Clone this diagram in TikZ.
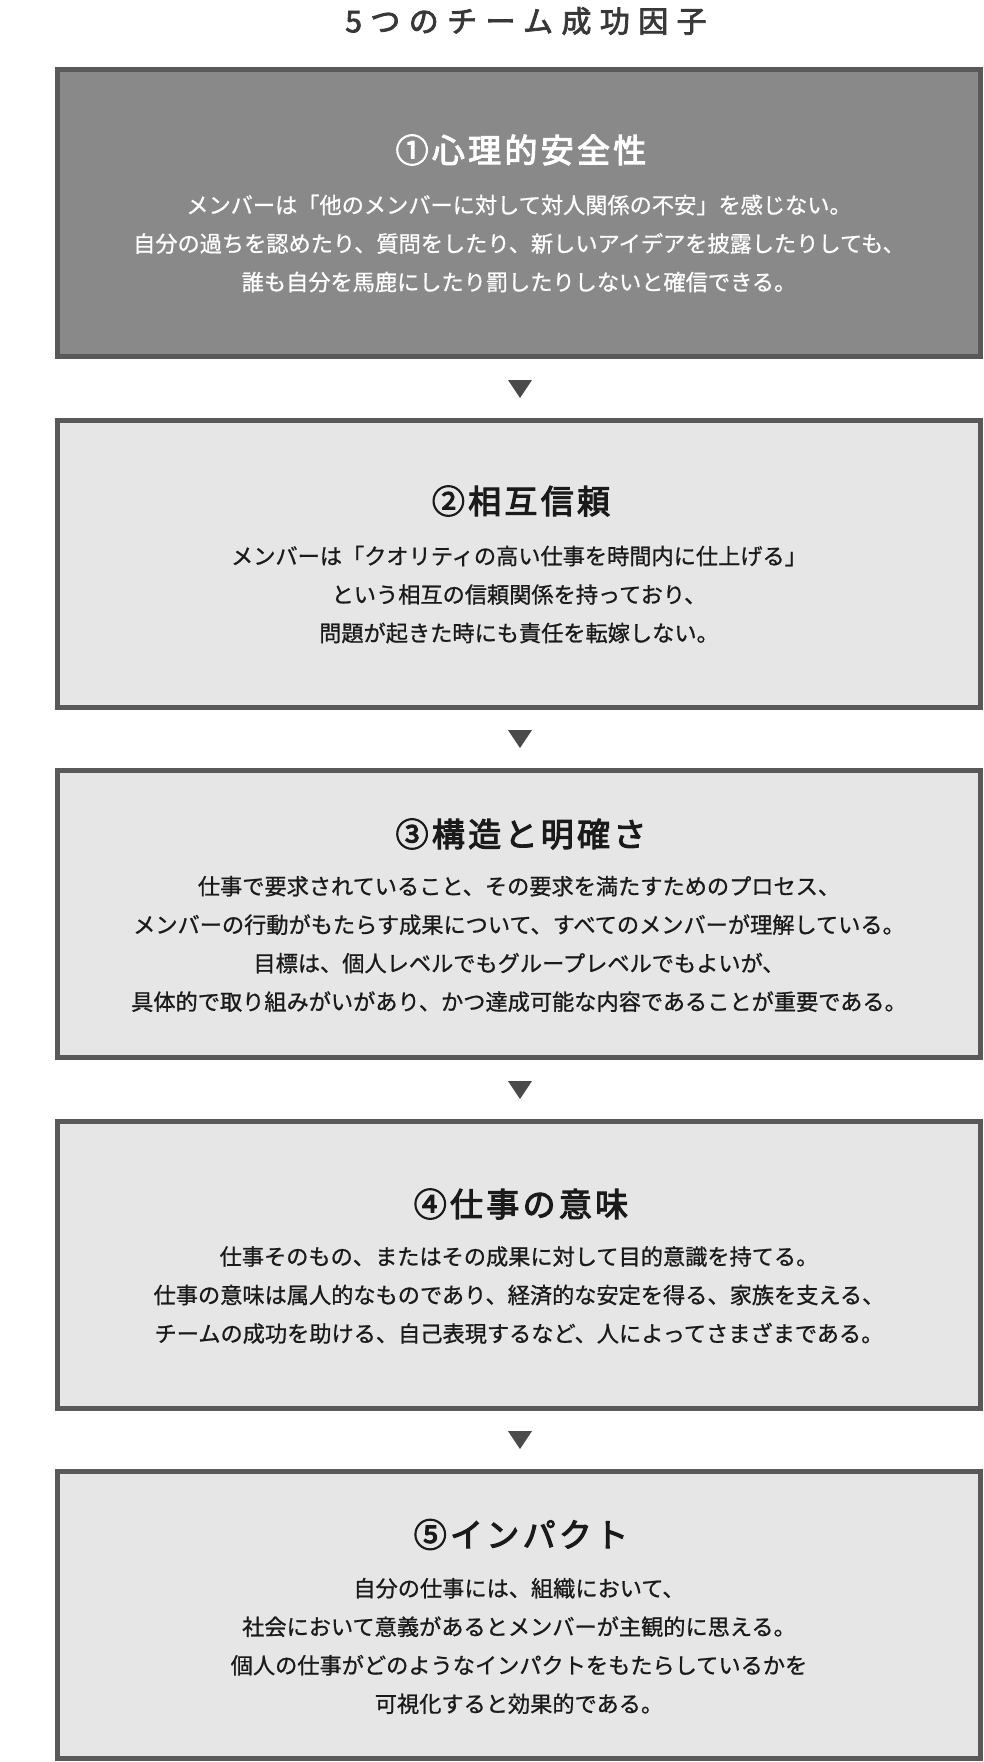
\documentclass[tikz,border=0pt]{standalone}
\usepackage{fontspec}
\setmainfont{Noto Sans CJK JP}
\newfontfamily\titlefont[LetterSpace=28,FakeBold=2.6]{Noto Sans CJK JP}
\newfontfamily\headfont[LetterSpace=10,FakeBold=3.2]{Noto Sans CJK JP}
\newfontfamily\bodyfont[FakeBold=0.9]{Noto Sans CJK JP}
\usetikzlibrary{calc}
\definecolor{edgegray}{HTML}{595959}
\definecolor{darkfill}{HTML}{898989}
\definecolor{lightfill}{HTML}{E6E6E6}
\definecolor{inkdark}{HTML}{1A1A1A}
\definecolor{titleink}{HTML}{383838}
\definecolor{trigray}{HTML}{4A4A4A}
\tikzset{
  factor/.style={rectangle, draw=edgegray, line width=5pt, minimum width=923pt, minimum height=287pt, inner sep=0pt},
  factordark/.style={factor, fill=darkfill},
  factorlight/.style={factor, fill=lightfill},
  headtext/.style={inner sep=0pt, font=\headfont\fontsize{33}{38}\selectfont},
  bodytext/.style={inner sep=0pt, align=center, font=\bodyfont\fontsize{22.2}{38.5}\selectfont},
  titletext/.style={inner sep=0pt, text=titleink, font=\titlefont\fontsize{30}{34}\selectfont},
  trifill/.style={fill=trigray}
}
\begin{document}
\begin{tikzpicture}[x=1pt, y=-1pt]
\useasboundingbox (0,0) rectangle (984,1762);
\fill[white] (0,0) rectangle (984,1762);

\node[titletext] (title) at (526,21) {5つのチーム成功因子};

% boxes
\node[factordark]  (b1) at (519,213) {};
\node[factorlight] (b2) at (519,563.5) {};
\node[factorlight] (b3) at (519,914) {};
\node[factorlight] (b4) at (519,1264.5) {};
\node[factorlight] (b5) at (519,1615) {};

% box 1
\node[headtext, text=white] (h1) at (521,150) {①心理的安全性};
\node[bodytext, text=white] (t1) at (519,243.5) {メンバーは「他のメンバーに対して対人関係の不安」を感じない。\\
自分の過ちを認めたり、質問をしたり、新しいアイデアを披露したりしても、\\
誰も自分を馬鹿にしたり罰したりしないと確信できる。};

% box 2
\node[headtext, text=inkdark] (h2) at (521,501) {②相互信頼};
\node[bodytext, text=inkdark] (t2) at (519,594.5) {メンバーは「クオリティの高い仕事を時間内に仕上げる」\\
という相互の信頼関係を持っており、\\
問題が起きた時にも責任を転嫁しない。};

% box 3
\node[headtext, text=inkdark] (h3) at (521,834) {③構造と明確さ};
\node[bodytext, text=inkdark] (t3) at (519,944) {仕事で要求されていること、その要求を満たすためのプロセス、\\
メンバーの行動がもたらす成果について、すべてのメンバーが理解している。\\
目標は、個人レベルでもグループレベルでもよいが、\\
具体的で取り組みがいがあり、かつ達成可能な内容であることが重要である。};

% box 4
\node[headtext, text=inkdark] (h4) at (521,1204) {④仕事の意味};
\node[bodytext, text=inkdark] (t4) at (519,1295) {仕事そのもの、またはその成果に対して目的意識を持てる。\\
仕事の意味は属人的なものであり、経済的な安定を得る、家族を支える、\\
チームの成功を助ける、自己表現するなど、人によってさまざまである。};

% box 5
\node[headtext, text=inkdark] (h5) at (521,1534.5) {⑤インパクト};
\node[bodytext, text=inkdark] (t5) at (519,1646) {自分の仕事には、組織において、\\
社会において意義があるとメンバーが主観的に思える。\\
個人の仕事がどのようなインパクトをもたらしているかを\\
可視化すると効果的である。};

% arrows between boxes
\coordinate (a1) at (520,389);
\coordinate (a2) at (520,739);
\coordinate (a3) at (520,1090);
\coordinate (a4) at (520,1440);
\foreach \a in {a1,a2,a3,a4}{
  \fill[trifill] ($(\a)+(-12,-9)$) -- ($(\a)+(12,-9)$) -- ($(\a)+(0,9)$) -- cycle;
}
\end{tikzpicture}
\end{document}
